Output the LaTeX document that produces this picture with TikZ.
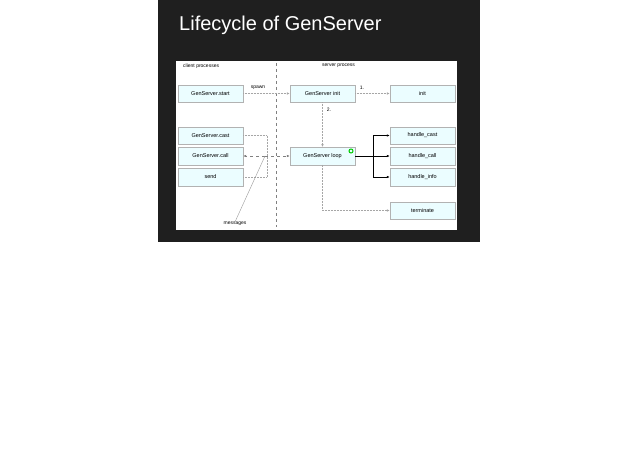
\documentclass[tikz,border=0pt]{standalone}
\usepackage{fontspec}
\setmainfont{Liberation Sans}
\usetikzlibrary{arrows.meta}
\begin{document}
\begin{tikzpicture}[x=1pt,y=-1pt,
  box/.style={draw=gray!60,fill=blue!12!cyan!8,minimum width=65pt,minimum height=17.5pt,inner sep=0pt,font=\fontsize{5.5}{6}\selectfont},
  lbl/.style={font=\fontsize{5}{6}\selectfont,inner sep=0pt},
  dot/.style={gray!70,densely dotted,line width=0.5pt,-{Latex[length=3pt,width=2.5pt]}},
  sol/.style={black,line width=0.6pt,-{Latex[length=3pt,width=2.5pt]}}]
\useasboundingbox (0,0) rectangle (638,476);
\fill[white] (0,0) rectangle (638,476);
\fill[black!88] (158,0) rectangle (480,242);
\node[anchor=west,text=white,font=\fontsize{20}{22}\selectfont,inner sep=0pt] (title) at (179,25) {Lifecycle of GenServer};
\fill[white] (176,61) rectangle (457,230);
\draw[gray,dashed,line width=0.5pt] (276,63) -- (276,227);
\node[lbl,anchor=west] (cp) at (183,66) {client processes};
\node[lbl,anchor=west] (sp) at (322,66) {server process};
\node[box] (start) at (210.5,93.5) {GenServer.start};
\node[box] (ginit) at (322.5,93.5) {GenServer init};
\node[box] (init) at (422.5,93.5) {init};
\node[box] (cast) at (210.5,135.5) {GenServer.cast};
\node[box] (call) at (210.5,156) {GenServer.call};
\node[box] (send) at (210.5,177) {send};
\node[box] (loop) at (322.5,156) {GenServer loop};
\node[box] (hcast) at (422.5,135.5) {handle\_cast};
\node[box] (hcall) at (422.5,156) {handle\_call};
\node[box] (hinfo) at (422.5,177) {handle\_info};
\node[box] (term) at (422.5,210.5) {terminate};
\node[lbl] (spawn) at (258,88) {spawn};
\node[lbl] (one) at (362,88) {1.};
\node[lbl] (two) at (329,110) {2.};
\node[lbl] (msg) at (235,224) {messages};
\draw[dot] (start) -- (ginit);
\draw[dot] (ginit) -- (init);
\draw[dot] (ginit) -- (loop);
\draw[dot] (loop.south) |- (term);
\coordinate (j) at (373,156);
\draw[sol] (loop) -- (hcall);
\draw[black,line width=0.6pt] (373,135.5) -- (373,177);
\draw[sol] (373,135.5) -- (hcast);
\draw[sol] (373,177) -- (hinfo);
\coordinate (m) at (265,156);
\draw[gray,dashed,line width=0.5pt,-{Latex[length=3pt,width=2.5pt]}] (m) -- (call);
\draw[gray,dashed,line width=0.5pt,-{Latex[length=3pt,width=2.5pt]}] (m) -- (loop);
\draw[gray!70,densely dotted,line width=0.5pt] (cast.east) -- (267,135.5) -- (267,177) -- (send.east);
\draw[gray!80,line width=0.4pt] (msg.north) -- (m);
\draw[green!80!black,line width=1pt] (351,151) circle (2pt);
\end{tikzpicture}
\end{document}
